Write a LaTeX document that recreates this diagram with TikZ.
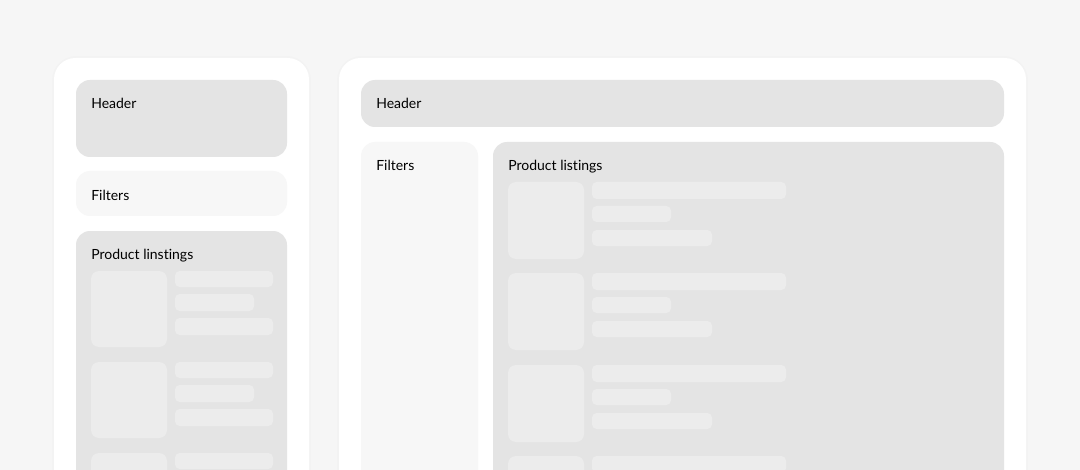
\documentclass[tikz,border=0pt]{standalone}
\usepackage{fontspec}
\setmainfont[Ligatures=NoCommon]{Lato}
\usetikzlibrary{positioning}

\definecolor{pagebg}{HTML}{F6F6F6}
\definecolor{blockgray}{HTML}{E4E4E4}
\definecolor{tilegray}{HTML}{ECECEC}
\definecolor{filtergray}{HTML}{F7F7F7}

\begin{document}
\begin{tikzpicture}[x=0.75pt,y=-0.75pt]
\tikzstyle{card}=[fill=white,rounded corners=16pt]
\tikzstyle{block}=[fill=blockgray,rounded corners=10.5pt]
\tikzstyle{softblock}=[fill=filtergray,rounded corners=10.5pt]
\tikzstyle{tile}=[fill=tilegray,rounded corners=6pt]
\tikzstyle{bar}=[fill=tilegray,rounded corners=3.5pt]
\tikzstyle{caption}=[anchor=base west,inner sep=0pt,font=\fontsize{10.5pt}{12pt}\selectfont]

%% Page and clipping
\fill[pagebg] (0,0) rectangle (1080,470);
\useasboundingbox (0,0) rectangle (1080,470);
\clip (0,0) rectangle (1080,470);

%% Narrow layout
\fill[black,opacity=0.012,rounded corners=18pt] (52,56) rectangle (311,500);
\fill[card] (54,58) rectangle (309,500);
\fill[block] (76,80) rectangle (287,157);
\node[caption] (narrowheader) at (91,109) {Header};
\fill[softblock] (76,171) rectangle (287,216);
\node[caption] (narrowfilters) at (91,200) {Filters};
\fill[block] (76,231) rectangle (287,500);
\node[caption] (narrowlist) at (91,259) {Product linstings};

\foreach \y in {271,362,453}{
    \fill[tile] (91,\y) rectangle (167,\y+76);
    \fill[bar] (175,\y) rectangle (273,\y+16);
    \fill[bar] (175,\y+23) rectangle (254,\y+40);
    \fill[bar] (175,\y+47) rectangle (273,\y+64);
}

%% Wide layout
\fill[black,opacity=0.012,rounded corners=18pt] (337,56) rectangle (1028,500);
\fill[card] (339,58) rectangle (1026,500);
\fill[block] (361,80) rectangle (1004,127);
\node[caption] (wideheader) at (376,109) {Header};
\fill[softblock] (361,142) rectangle (478,500);
\node[caption] (widefilters) at (376,171) {Filters};
\fill[block] (493,142) rectangle (1004,500);
\node[caption] (widelist) at (508,171) {Product listings};

\foreach \y in {182,273,365,456}{
    \fill[tile] (508,\y) rectangle (584,\y+77);
    \fill[bar] (592,\y) rectangle (786,\y+17);
    \fill[bar] (592,\y+24) rectangle (671,\y+40);
    \fill[bar] (592,\y+48) rectangle (712,\y+64);
}

\end{tikzpicture}
\end{document}
